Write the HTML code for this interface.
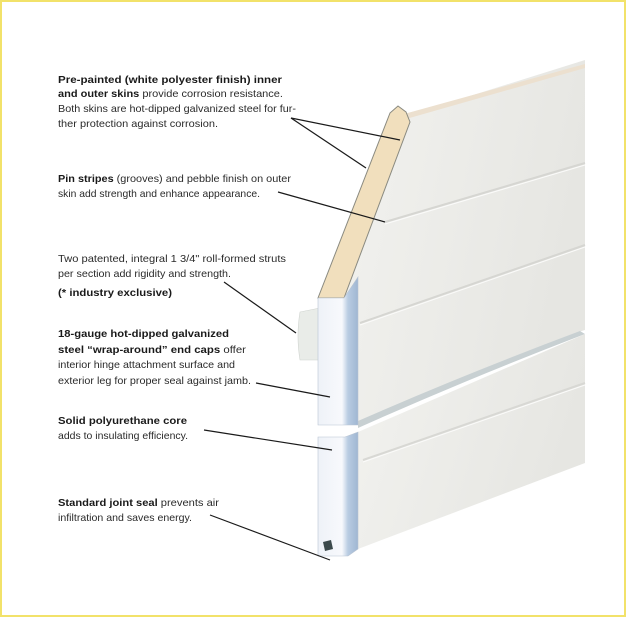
<!DOCTYPE html>
<html><head><meta charset="utf-8"><style>
html,body{margin:0;padding:0;background:#fff}
svg{display:block}
text{font-family:"Liberation Sans",sans-serif;font-size:10.5px;fill:#2a2a2a}
.b{font-weight:bold;fill:#1a1a1a}
</style></head><body>
<svg width="626" height="617" viewBox="0 0 626 617" xmlns="http://www.w3.org/2000/svg">
<defs>
<linearGradient id="face" x1="0" y1="0" x2="1" y2="0.3">
<stop offset="0" stop-color="#f2f2ef"/><stop offset="1" stop-color="#e6e6e2"/>
</linearGradient>
<linearGradient id="cap" x1="0" y1="0" x2="1" y2="0">
<stop offset="0" stop-color="#eef2f8"/><stop offset="0.6" stop-color="#f8f9fc"/><stop offset="0.75" stop-color="#b9cce2"/><stop offset="1" stop-color="#9fb6d2"/>
</linearGradient>
</defs>
<rect x="1" y="1" width="624" height="615" fill="#fff" stroke="#f2e26a" stroke-width="2"/>
<!-- strut -->
<path d="M300 312 L320 308 L320 360 L300 360 Q296 336 300 312Z" fill="#e9ece8" stroke="#d0d4d0" stroke-width="0.6"/>
<!-- upper section face -->
<path d="M406 116 L585 60 L585 330 L578 332 Q470 372 358 422 L344 298 Z" fill="url(#face)"/>
<!-- top beige stripe -->
<path d="M404 114 L585 64 L585 68 L406 119Z" fill="#ece0cf"/>
<!-- grooves upper -->
<path d="M385 222 L585 163" stroke="#d6d6d2" stroke-width="2"/>
<path d="M385 224 L585 165" stroke="#fbfbfa" stroke-width="1"/>
<path d="M360 323 L585 245" stroke="#d6d6d2" stroke-width="2"/>
<path d="M360 325 L585 247" stroke="#fbfbfa" stroke-width="1"/>
<!-- wavy bottom shadow of upper -->
<path d="M358 421 Q470 372 580 331 L585 334 Q470 378 358 428Z" fill="#c8d0d2"/>
<!-- lower section face -->
<path d="M358 432 L585 334 L585 463 L358 549Z" fill="url(#face)"/>
<path d="M363 460 L585 383" stroke="#d8d8d4" stroke-width="2"/>
<path d="M363 462 L585 385" stroke="#fbfbfa" stroke-width="1"/>
<!-- core strip -->
<path d="M390 113 L398 106 L406 112 L410 122 L344 298 L318 298 Z" fill="#f1dfbd" stroke="#8a8a80" stroke-width="1"/>
<!-- upper end cap -->
<path d="M318 298 L344 298 L358 277 L358 425 L318 425 Z" fill="url(#cap)" stroke="#b8c4d2" stroke-width="0.6"/>
<!-- lower end cap -->
<path d="M318 437 L345 437 L358 432 L358 549 L348 556 L318 556 Z" fill="url(#cap)" stroke="#b8c4d2" stroke-width="0.6"/>
<path d="M323 542 L331 540 L333 549 L325 551Z" fill="#3c4a4c"/>
<!-- leader lines -->
<g stroke="#1a1a1a" stroke-width="1.2" fill="none">
<path d="M291 118 L400 140"/>
<path d="M291 118 L366 168"/>
<path d="M278 192 L385 222"/>
<path d="M224 282 L296 333"/>
<path d="M256 383 L330 397"/>
<path d="M204 430 L332 450"/>
<path d="M210 515 L330 560"/>
</g>
<!-- texts -->
<text x="58" y="83" textLength="224" lengthAdjust="spacingAndGlyphs" class="b">Pre-painted (white polyester finish) inner</text>
<text x="58" y="97" textLength="225" lengthAdjust="spacingAndGlyphs"><tspan class="b">and outer skins</tspan> provide corrosion resistance.</text>
<text x="58" y="112" textLength="238" lengthAdjust="spacingAndGlyphs">Both skins are hot-dipped galvanized steel for fur-</text>
<text x="58" y="127" textLength="160" lengthAdjust="spacingAndGlyphs">ther protection against corrosion.</text>

<text x="58" y="182" textLength="233" lengthAdjust="spacingAndGlyphs"><tspan class="b">Pin stripes</tspan> (grooves) and pebble finish on outer</text>
<text x="58" y="197" textLength="202" lengthAdjust="spacingAndGlyphs">skin add strength and enhance appearance.</text>

<text x="58" y="262" textLength="228" lengthAdjust="spacingAndGlyphs">Two patented, integral 1 3/4" roll-formed struts</text>
<text x="58" y="277" textLength="173" lengthAdjust="spacingAndGlyphs">per section add rigidity and strength.</text>
<text x="58" y="296" textLength="114" lengthAdjust="spacingAndGlyphs" class="b">(* industry exclusive)</text>

<text x="58" y="337" textLength="171" lengthAdjust="spacingAndGlyphs" class="b">18-gauge hot-dipped galvanized</text>
<text x="58" y="353" textLength="188" lengthAdjust="spacingAndGlyphs"><tspan class="b">steel “wrap-around” end caps</tspan> offer</text>
<text x="58" y="368" textLength="177" lengthAdjust="spacingAndGlyphs">interior hinge attachment surface and</text>
<text x="58" y="384" textLength="193" lengthAdjust="spacingAndGlyphs">exterior leg for proper seal against jamb.</text>

<text x="58" y="424" textLength="129" lengthAdjust="spacingAndGlyphs" class="b">Solid polyurethane core</text>
<text x="58" y="439" textLength="130" lengthAdjust="spacingAndGlyphs">adds to insulating efficiency.</text>

<text x="58" y="506" textLength="161" lengthAdjust="spacingAndGlyphs"><tspan class="b">Standard joint seal</tspan> prevents air</text>
<text x="58" y="521" textLength="134" lengthAdjust="spacingAndGlyphs">infiltration and saves energy.</text>
</svg>
</body></html>
